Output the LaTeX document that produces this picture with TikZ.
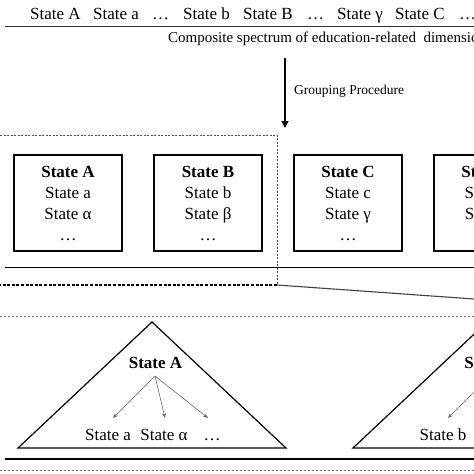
\documentclass[tikz,border=0pt]{standalone}
\usepackage{fontspec}
\setmainfont{Liberation Serif}
\usetikzlibrary{arrows.meta}
\tikzset{
  lbl/.style={inner sep=0pt, anchor=base west, font=\fontsize{17}{21}\selectfont},
  grp/.style={inner sep=0pt, anchor=base west, font=\fontsize{13.5}{16}\selectfont},
  comp/.style={inner sep=0pt, anchor=base west, font=\fontsize{15}{18}\selectfont},
  statebox/.style={draw, line width=1.3pt, minimum width=108pt, minimum height=96pt, inner sep=0pt, align=center, font=\fontsize{17}{21}\selectfont},
  trilbl/.style={inner sep=0pt, anchor=base, font=\fontsize{17}{21}\selectfont},
  tri/.style={draw, line width=1.2pt, line join=miter},
  rule/.style={line width=1pt},
  dotgray/.style={draw=black!55, line width=0.9pt, dash pattern=on 2pt off 2pt},
  thinarrow/.style={draw=black!60, line width=0.6pt, -{Stealth[length=5pt,width=4pt]}},
}
\begin{document}
\begin{tikzpicture}[x=1pt,y=-1pt]
\useasboundingbox (0,0) rectangle (474,474);
\clip (0,0) rectangle (474,474);
% top spectrum
\node[lbl] (t1) at (30,19) {State A};
\node[lbl] (t2) at (93,19) {State a};
\node[lbl] (t3) at (152,19) {…};
\node[lbl] (t4) at (183,19) {State b};
\node[lbl] (t5) at (243,19) {State B};
\node[lbl] (t6) at (307,19) {…};
\node[lbl] (t7) at (337,19) {State γ};
\node[lbl] (t8) at (395,19) {State C};
\node[lbl] (t9) at (459,19) {…};
\coordinate (r1a) at (5,26.5);
\coordinate (r1b) at (474,26.5);
\draw[line width=1.4pt, draw=black!80] (r1a) -- (r1b);
\node[comp] (comp) at (168,42) {Composite spectrum of education-related\ \ dimensions};
% grouping arrow
\coordinate (g1) at (285,58);
\coordinate (g2) at (285,128);
\draw[line width=1.4pt, -{Triangle[width=7pt,length=7pt]}] (g1) -- (g2);
\node[grp] (grp) at (294,94) {Grouping Procedure};
% dashed zoom frame
\coordinate (d0) at (0,135);
\coordinate (d1) at (277,135);
\coordinate (d2) at (277,285);
\coordinate (d3) at (0,285);
\coordinate (z1) at (474,299);
\draw[draw=black!70, line width=0.7pt, dash pattern=on 2pt off 1.5pt] (d0) -- (d1) -- (d2);
\draw[line width=1.3pt, dash pattern=on 3pt off 1.6pt] (d2) -- (d3);
\draw[draw=black!75, line width=1.1pt] (d2) -- (z1);
% boxes
\node[statebox] (bA) at (68,203) {\textbf{State A}\\State a\\State α\\…};
\node[statebox] (bB) at (208,203) {\textbf{State B}\\State b\\State β\\…};
\node[statebox] (bC) at (348,203) {\textbf{State C}\\State c\\State γ\\…};
\node[statebox] (bD) at (488,203) {\textbf{State D}\\State d\\State δ\\…};
\coordinate (r2a) at (5,267);
\coordinate (r2b) at (474,267);
\draw[rule] (r2a) -- (r2b);
% lower dotted separators
\coordinate (s1a) at (0,316);
\coordinate (s1b) at (474,316);
\draw[dotgray] (s1a) -- (s1b);
% triangle A
\coordinate (tA1) at (18,448);
\coordinate (tA2) at (152,322);
\coordinate (tA3) at (286,448);
\draw[tri] (tA1) -- (tA2) -- (tA3) -- cycle;
\node[trilbl, font=\fontsize{17}{21}\selectfont\bfseries] (hA) at (155.5,368) {State A};
\coordinate (oA) at (155,376);
\node[trilbl] (la1) at (108,440) {State a};
\node[trilbl] (la2) at (164,440) {State α};
\node[trilbl] (la3) at (212,440) {…};
\coordinate (aA1) at (113,418);
\coordinate (aA2) at (165,418);
\coordinate (aA3) at (208,418);
\draw[thinarrow] (oA) -- (aA1);
\draw[thinarrow] (oA) -- (aA2);
\draw[thinarrow] (oA) -- (aA3);
% triangle B
\coordinate (tB1) at (353,448);
\coordinate (tB2) at (487,322);
\coordinate (tB3) at (621,448);
\draw[tri] (tB1) -- (tB2) -- (tB3) -- cycle;
\node[trilbl, font=\fontsize{17}{21}\selectfont\bfseries] (hB) at (490.5,368) {State B};
\coordinate (oB) at (490,376);
\node[trilbl] (lb1) at (443,440) {State b};
\coordinate (aB1) at (448,418);
\draw[thinarrow] (oB) -- (aB1);
% bottom rules
\coordinate (r3a) at (5,459);
\coordinate (r3b) at (474,459);
\draw[line width=2pt] (r3a) -- (r3b);
\coordinate (s2a) at (0,470);
\coordinate (s2b) at (474,470);
\draw[dotgray] (s2a) -- (s2b);
\end{tikzpicture}
\end{document}
